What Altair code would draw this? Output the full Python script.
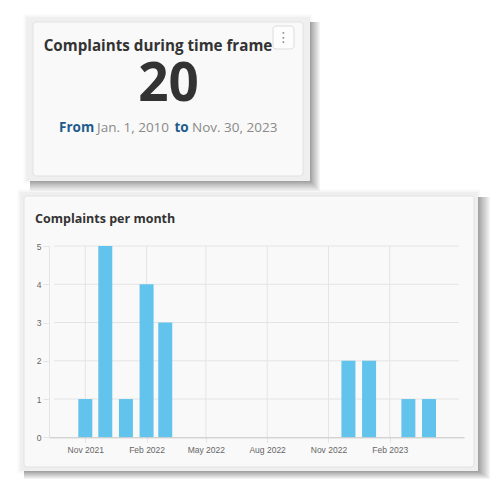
import altair as alt
import pandas as pd

# ---- data ----
months = ["2021-11-01", "2021-12-01", "2022-01-01", "2022-02-01", "2022-03-01",
          "2022-12-01", "2023-01-01", "2023-03-01", "2023-04-01"]
counts = [1, 5, 1, 4, 3, 2, 2, 1, 1]
y_ticks = [0, 1, 2, 3, 4, 5]
x_tick_months = ["2021-11-01", "2022-02-01", "2022-05-01", "2022-08-01",
                 "2022-11-01", "2023-02-01"]
x_domain = ["2021-09-15", "2023-05-16"]
card_title = "Complaints during time frame"
range_words = ["From", "Jan. 1, 2010", "to", "Nov. 30, 2023"]
chart_title = "Complaints per month"
total = sum(counts)

W, H = 484, 484
OFF = 8  # page margin


def dt(s):
    t = pd.Timestamp(s)
    return alt.DateTime(year=t.year, month=t.month, date=t.day, utc=True)


xscale = alt.Scale(type="utc", domain=[dt(x_domain[0]), dt(x_domain[1])],
                   range=[49 - OFF, 464 - OFF])
yscale = alt.Scale(domain=[0, 5], range=[437.3 - OFF, 246 - OFF], nice=False, zero=True)

xaxis = alt.Axis(values=[dt(m) for m in x_tick_months], format="%b %Y", title=None,
                 grid=False, offset=(437.3 - OFF) - H, tickSize=5, tickColor="#e4e4e4",
                 domainColor="#c4c4c4", labelFont="Liberation Sans", labelFontSize=8.5,
                 labelColor="#666666", labelPadding=3, labelFlush=False, labelOverlap=False,
                 zindex=1)
yaxis = alt.Axis(values=y_ticks, title=None, grid=False, offset=-(49 - OFF), tickSize=6,
                 tickColor="#e4e4e4", domainColor="#e4e4e4", labelFont="Liberation Sans",
                 labelFontSize=8.5, labelColor="#666666", labelPadding=2, format="d",
                 zindex=1)

X = alt.X("month:T", scale=xscale, axis=xaxis)
Y = alt.Y("count:Q", scale=yscale, axis=yaxis)

df_bars = pd.DataFrame({"month": months, "count": counts})
df_vgrid = pd.DataFrame({"month": x_tick_months, "count": [0] * len(x_tick_months),
                         "top": [5] * len(x_tick_months)})
df_hgrid = pd.DataFrame({"month": [x_domain[0]] * 5, "end": [x_domain[1]] * 5,
                         "count": y_ticks[1:]})


def one(v=0):
    return pd.DataFrame({"t": [v]})


def rect(x1, y1, x2, y2, **kw):
    return alt.Chart(one()).mark_rect(**kw).encode(
        x=alt.value(x1 - OFF), x2=alt.value(x2 - OFF),
        y=alt.value(y1 - OFF), y2=alt.value(y2 - OFF))


def text(t, x, y, **kw):
    return alt.Chart(one(t)).mark_text(**kw).encode(
        text="t:N", x=alt.value(x - OFF), y=alt.value(y - OFF))


layers = []


def card(frame, inner, sh_r, sh_b):
    fx1, fy1, fx2, fy2 = frame
    # soft outer glow
    for i in range(1, 4):
        layers.append(rect(fx1 - i, fy1 - i, fx2 + i, fy2 + i, color="black", opacity=0.012))
    # drop shadow to the right / bottom
    n = 9
    for i in range(1, n + 1):
        layers.append(rect(fx1 + 4, fy1 + 5, fx2 + sh_r * i / n, fy2 + sh_b * i / n,
                           color="black", opacity=0.045))
    layers.append(rect(*frame, color="#efefef"))
    layers.append(rect(*inner, color="#f9f9f9", stroke="#e2e2e2", strokeWidth=1,
                       cornerRadius=3))


card((26, 17, 310, 181), (33, 22, 303, 176), 10, 10)
card((20, 192, 478, 471), (24, 196, 474, 467), 12, 8)

# top card content
layers.append(text(card_title, 158, 50.5, font="Open Sans", fontSize=15.2, fontWeight="bold",
                   color="#333333", align="center", baseline="alphabetic"))
layers.append(text(str(total), 168.5, 101, font="Open Sans", fontSize=53, fontWeight="bold",
                   color="#333333", align="center", baseline="alphabetic"))
word_x = [59, 97, 174.5, 192]
for w, xx, bold in zip(range_words, word_x, [True, False, True, False]):
    layers.append(text(w, xx, 131.7, font="Open Sans", fontSize=13.5,
                       fontWeight="bold" if bold else "normal",
                       color="#1f5b8d" if bold else "#8a8a8a", align="left",
                       baseline="alphabetic"))
# kebab button
layers.append(rect(273, 26, 294, 49, color="#fdfdfd", stroke="#dddddd", strokeWidth=1,
                   cornerRadius=3))
layers.append(text("\u22ee", 283.5, 37.5, font="DejaVu Sans", fontSize=14, color="#8a8a8a",
                   align="center", baseline="middle"))

# bottom card title
layers.append(text(chart_title, 35, 223.3, font="Open Sans", fontSize=12.5, fontWeight="bold",
                   color="#333333", align="left", baseline="alphabetic"))

# grid lines (data-driven through the scales)
layers.append(alt.Chart(df_hgrid).mark_rule(color="#e4e4e4", strokeWidth=1).encode(
    x=X, x2="end:T", y=Y))
layers.append(alt.Chart(df_vgrid).mark_rule(color="#e4e4e4", strokeWidth=1).encode(
    x=X, y=Y, y2="top:Q"))

# bars
layers.append(alt.Chart(df_bars).mark_bar(size=14, color="#62c3ec").encode(x=X, y=Y))

chart = alt.layer(*layers).properties(
    width=W, height=H, autosize=alt.AutoSizeParams(type="none"), padding=0,
    background="white"
).configure_view(stroke=None)

chart.save("out.html", embed_options={"renderer": "svg", "actions": False})
